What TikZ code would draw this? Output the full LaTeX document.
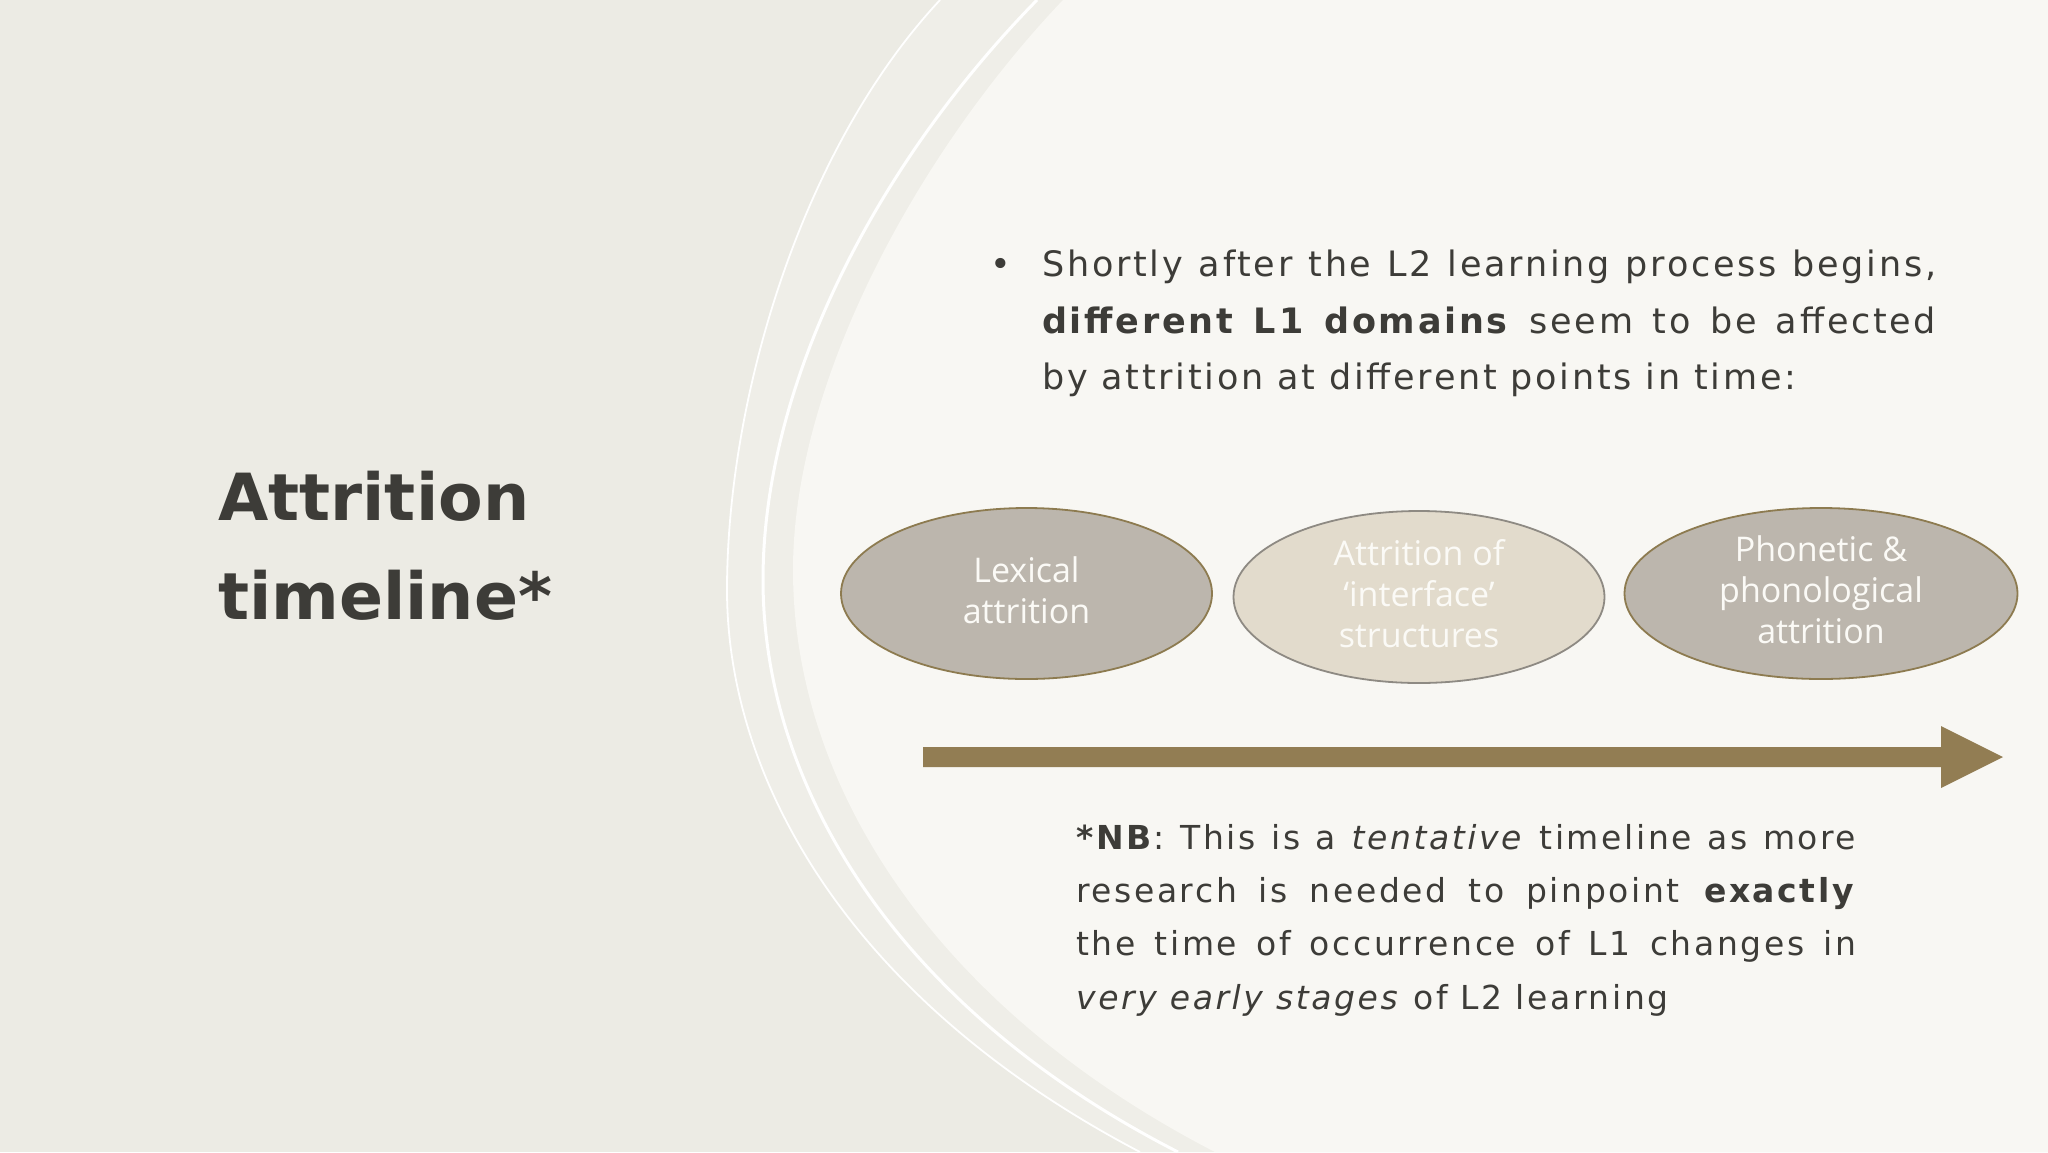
\documentclass[tikz,border=0pt]{standalone}
\usepackage{fontspec}
\setmainfont{DejaVu Sans}
\newfontfamily\spacedfont[LetterSpace=7.8]{DejaVu Sans}
\newfontfamily\ovalfont{Open Sans}
\usetikzlibrary{shapes.geometric}
\definecolor{leftbg}{HTML}{ECEBE4}
\definecolor{bandbg}{HTML}{EFEEE8}
\definecolor{rightbg}{HTML}{F8F7F3}
\definecolor{ink}{HTML}{3D3C38}
\definecolor{olive}{HTML}{927D53}
\definecolor{taupe}{HTML}{BCB6AD}
\definecolor{sand}{HTML}{E2DBCC}
\definecolor{brownrim}{HTML}{8D7B50}
\definecolor{greyrim}{HTML}{8E8A83}
\definecolor{ovaltext}{HTML}{FBFAF6}
\begin{document}
\begin{tikzpicture}[x=1pt,y=-1pt,
  oval/.style={ellipse, draw=brownrim, fill=taupe, line width=1.8pt, inner sep=0pt},
  ovaltxt/.style={font=\ovalfont\fontsize{34}{41}\selectfont, text=ovaltext, align=center, inner sep=0pt},
  bodytxt/.style={font=\spacedfont\fontsize{35}{57.5}\selectfont, text=ink, inner sep=0pt, anchor=base west},
  notetxt/.style={font=\spacedfont\fontsize{33}{53.5}\selectfont, text=ink, inner sep=0pt, anchor=base west},
  titletxt/.style={font=\bfseries\fontsize{65}{100}\selectfont, text=ink, inner sep=0pt, anchor=base west}]
\useasboundingbox (0,0) rectangle (2048,1152);
% background
\fill[leftbg] (0,0) rectangle (2048,1152);
\fill[bandbg] (2048,0) -- (940,0) .. controls (800,150) and (727,400) .. (727,590)
  .. controls (727,780) and (850,1000) .. (1140,1152) -- (2048,1152) -- cycle;
\fill[rightbg] (2048,0) -- (1063,0) .. controls (920,150) and (793,380) .. (793,570)
  .. controls (793,790) and (940,1010) .. (1215,1152) -- (2048,1152) -- cycle;
\draw[white, line width=1.8pt] (940,0) .. controls (800,150) and (727,400) .. (727,590)
  .. controls (727,780) and (850,1000) .. (1140,1152);
\draw[white, line width=3pt] (1037,0) .. controls (880,160) and (763,380) .. (763,580)
  .. controls (763,790) and (900,1010) .. (1178,1152);
% title
\node[titletxt] (tt1) at (218,520) {Attrition};
\node[titletxt] (tt2) at (218,619) {timeline*};
% bullet text
\node[bodytxt, anchor=base] (bul) at (1001,276) {•};
\node[bodytxt] (b1) at (1042,276) {\makebox[894pt][s]{Shortly after the L2 learning process begins,}};
\node[bodytxt] (b2) at (1042,333) {\makebox[894pt][s]{\textbf{different L1 domains} seem to be affected}};
\node[bodytxt] (b3) at (1042,389) {by attrition at different points in time:};
% ovals
\node[oval, minimum width=371pt, minimum height=171pt] (e1) at (1026.5,593.5) {};
\node[oval, draw=greyrim, fill=sand, minimum width=371pt, minimum height=172pt] (e2) at (1419,597) {};
\node[oval, minimum width=393pt, minimum height=171pt] (e3) at (1821,593.5) {};
\node[ovaltxt] (e1t) at ([yshift=3.5pt]e1.center) {Lexical\\attrition};
\node[ovaltxt] (e2t) at ([yshift=3.5pt]e2.center) {Attrition of\\‘interface’\\structures};
\node[ovaltxt] (e3t) at ([yshift=3.5pt]e3.center) {Phonetic \&\\phonological\\attrition};
% timeline arrow
\coordinate (tail) at (923,757);
\coordinate (tip) at (2003,757);
\fill[olive] (923,747) -- (1941,747) -- (1941,726) -- (tip) -- (1941,788) -- (1941,767) -- (923,767) -- cycle;
% note
\node[notetxt] (n1) at (1076,849) {\makebox[780pt][s]{\textbf{*NB}: This is a \textit{tentative} timeline as more}};
\node[notetxt] (n2) at (1076,902) {\makebox[780pt][s]{research is needed to pinpoint \textbf{exactly}}};
\node[notetxt] (n3) at (1076,955) {\makebox[780pt][s]{the time of occurrence of L1 changes in}};
\node[notetxt] (n4) at (1076,1009) {\textit{very early stages} of L2 learning};
\end{tikzpicture}
\end{document}
